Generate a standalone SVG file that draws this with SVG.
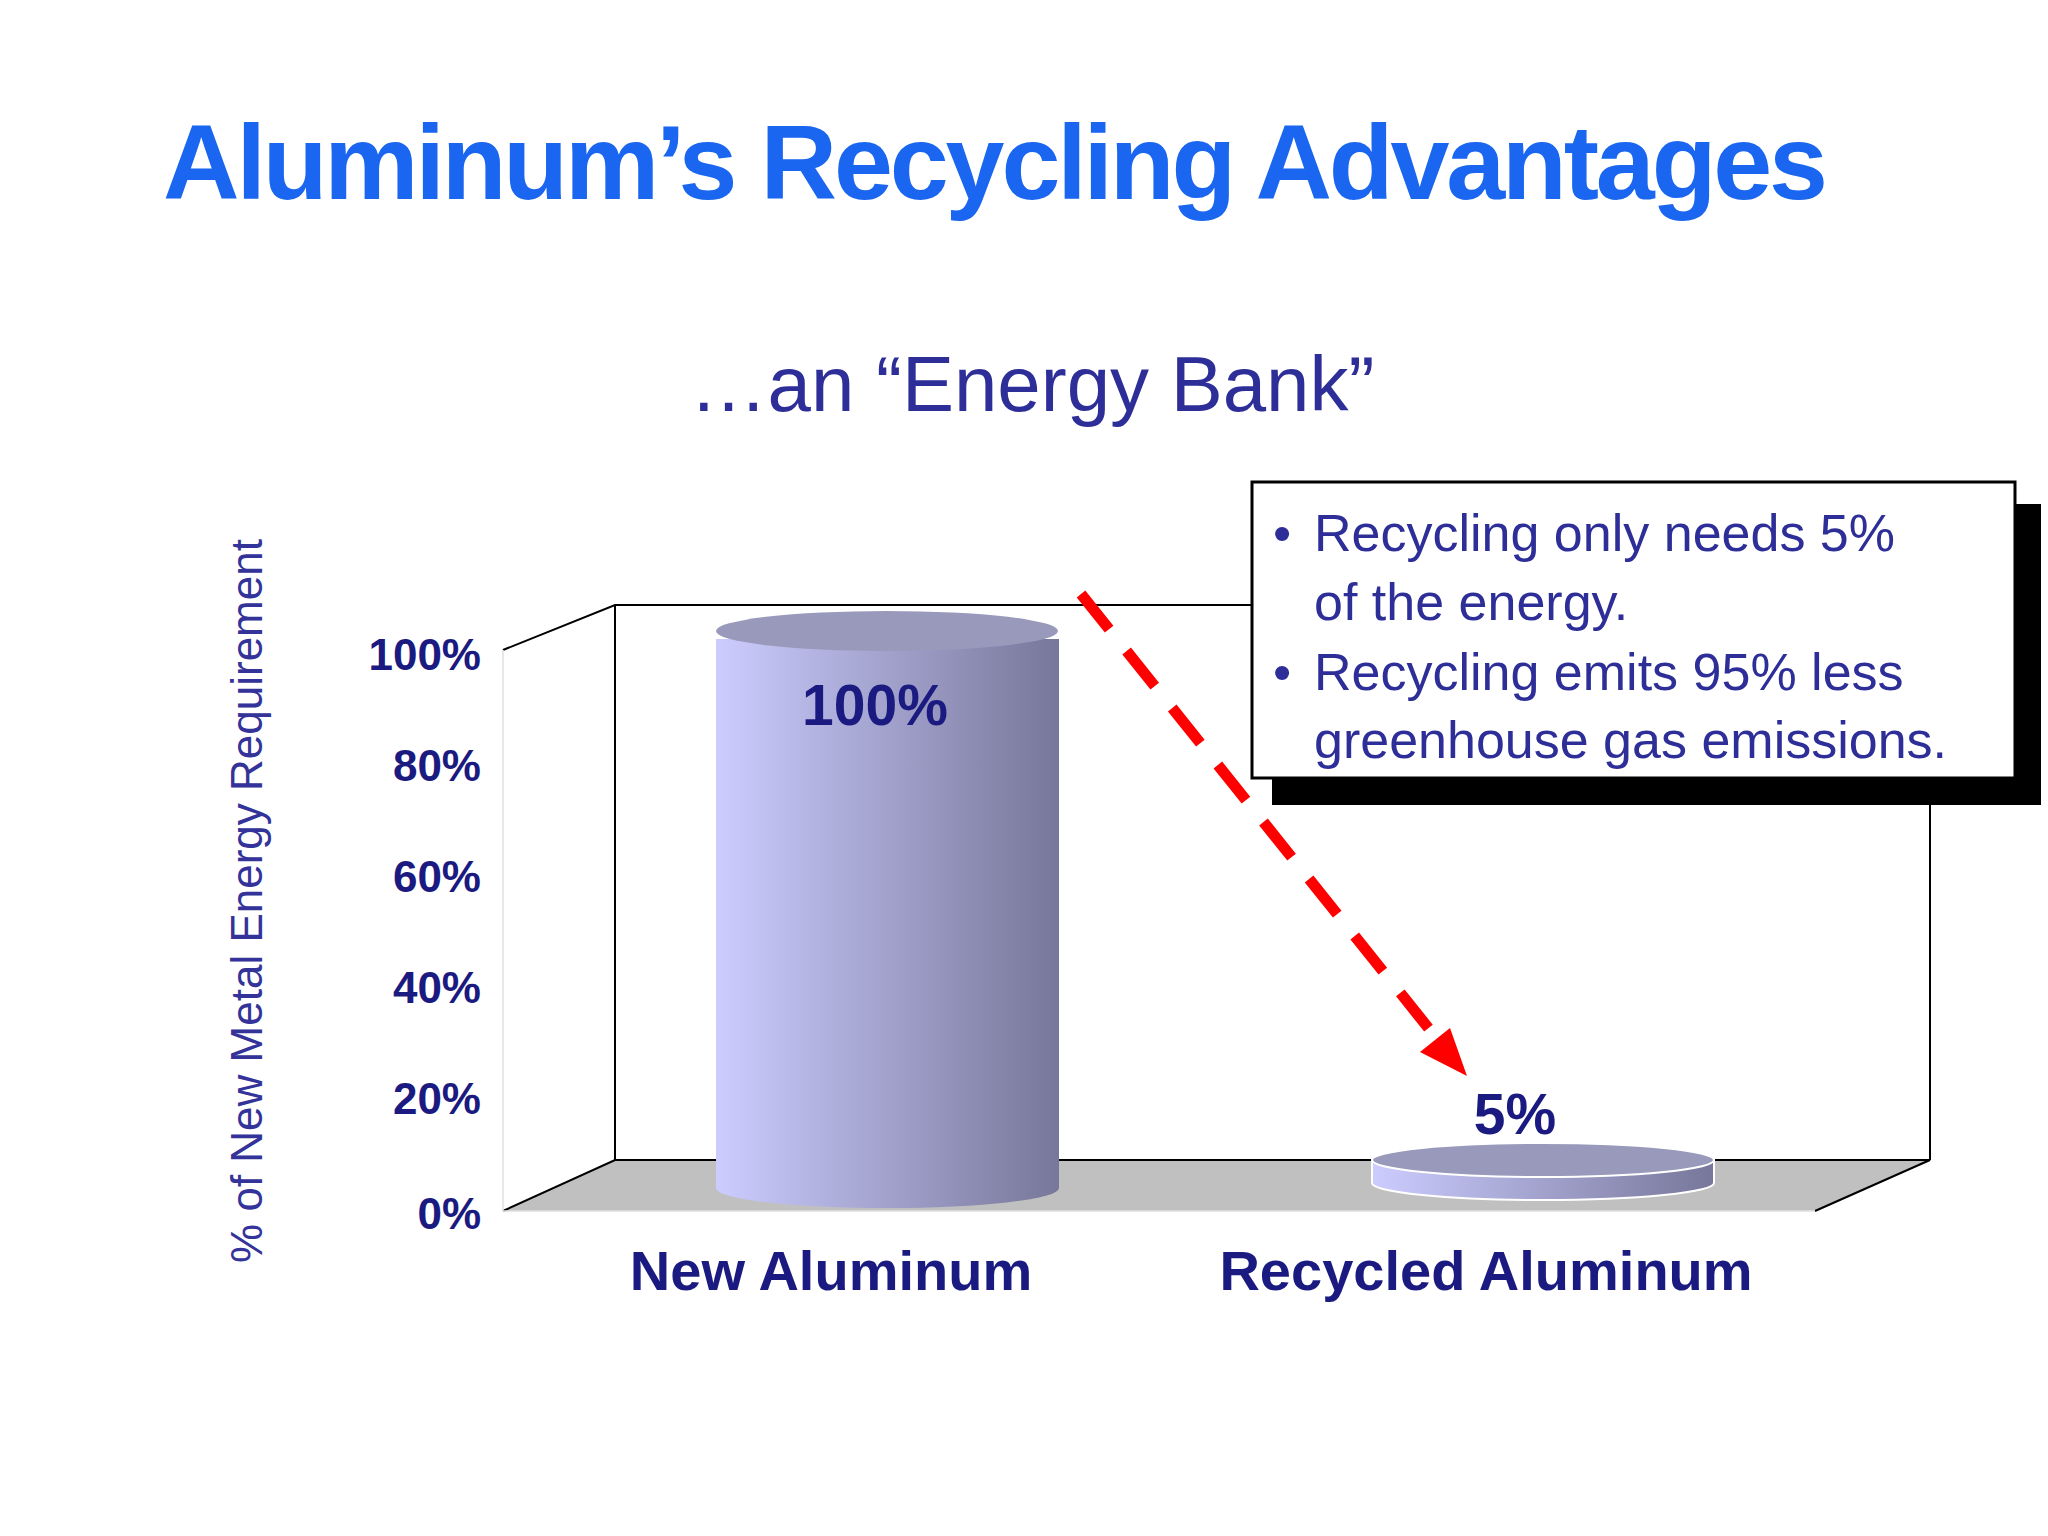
<svg xmlns="http://www.w3.org/2000/svg" width="2048" height="1536" viewBox="0 0 2048 1536">
<defs>
<style>
.t{font-family:"Liberation Sans",Arial,sans-serif}
.ax{font-family:"Liberation Sans",Arial,sans-serif;font-weight:bold;font-size:44px;fill:#1a1a80;text-anchor:end}
.bx{font-family:"Liberation Sans",Arial,sans-serif;font-size:52px;fill:#2e2e99}
</style>
<linearGradient id="cyl" x1="0" x2="1" y1="0" y2="0">
<stop offset="0" stop-color="#ccccff"/><stop offset="1" stop-color="#77779a"/>
</linearGradient>
<marker id="ah" viewBox="0 0 10 10" refX="9" refY="5" markerWidth="4" markerHeight="4" orient="auto" markerUnits="strokeWidth">
<path d="M0,0 L10,5 L0,10 z" fill="#ff0000"/>
</marker>
</defs>
<rect width="2048" height="1536" fill="#ffffff"/>
<text class="t" x="163" y="199" font-size="106" font-weight="bold" fill="#1a66f0" textLength="1665">Aluminum’s Recycling Advantages</text>
<text class="t" x="1032" y="411" font-size="78" fill="#2e2e99" text-anchor="middle">…an “Energy Bank”</text>
<text class="t" transform="translate(262,901) rotate(-90)" font-size="44" fill="#333399" text-anchor="middle">% of New Metal Energy Requirement</text>
<g id="chart">
<polygon points="615,1160 1930,1160 1815,1211 503,1211" fill="#c0c0c0"/>
<polyline points="503,650 615,605 1930,605 1930,1160" fill="none" stroke="#000" stroke-width="2"/>
<line x1="615" y1="605" x2="615" y2="1160" stroke="#000" stroke-width="2"/>
<polyline points="503,1211 615,1160 1930,1160 1815,1211" fill="none" stroke="#000" stroke-width="2"/>
<line x1="503" y1="650" x2="503" y2="1211" stroke="#e0e0e0" stroke-width="1.5"/>
<line x1="503" y1="1211" x2="1815" y2="1211" stroke="#e0e0e0" stroke-width="1.5"/>
</g>
<g id="axis">
<text class="ax" x="481" y="670">100%</text>
<text class="ax" x="481" y="781">80%</text>
<text class="ax" x="481" y="892">60%</text>
<text class="ax" x="481" y="1003">40%</text>
<text class="ax" x="481" y="1114">20%</text>
<text class="ax" x="481" y="1229">0%</text>
</g>
<g id="bar-new">
<path d="M716,639 L716,1188 A171,20 0 0 0 1059,1188 L1059,639 Z" fill="url(#cyl)"/>
<ellipse cx="887" cy="631" rx="171" ry="20" fill="#9999bb"/>
<text class="t" x="875" y="725" font-size="57" font-weight="bold" fill="#1a1a80" text-anchor="middle">100%</text>
</g>
<g id="bar-recycled">
<path d="M1372,1160 L1372,1183 A171,17 0 0 0 1714,1183 L1714,1160 Z" fill="url(#cyl)" stroke="#fff" stroke-width="2"/>
<ellipse cx="1543" cy="1160" rx="171" ry="17" fill="#9999bb" stroke="#fff" stroke-width="2"/>
<text class="t" x="1515" y="1134" font-size="57" font-weight="bold" fill="#1a1a80" text-anchor="middle">5%</text>
</g>
<g id="connectors">
<line x1="1081" y1="594" x2="1430" y2="1030" stroke="#ff0000" stroke-width="11" stroke-dasharray="45,28"/>
<polygon points="1467,1076 1420,1052 1450,1028" fill="#ff0000"/>
</g>
<g id="note">
<rect x="1272" y="504" width="769" height="301" fill="#000"/>
<rect x="1252" y="482" width="763" height="296" fill="#fff" stroke="#000" stroke-width="3"/>
<text class="bx" x="1273" y="551">•</text><text class="bx" x="1314" y="551">Recycling only needs 5%</text>
<text class="bx" x="1314" y="620">of the energy.</text>
<text class="bx" x="1273" y="690">•</text><text class="bx" x="1314" y="690">Recycling emits 95% less</text>
<text class="bx" x="1314" y="758">greenhouse gas emissions.</text>
</g>
<g id="categories">
<text class="t" x="831" y="1290" font-size="56" font-weight="bold" fill="#1a1a80" text-anchor="middle">New Aluminum</text>
<text class="t" x="1486" y="1290" font-size="56" font-weight="bold" fill="#1a1a80" text-anchor="middle">Recycled Aluminum</text>
</g>
</svg>
